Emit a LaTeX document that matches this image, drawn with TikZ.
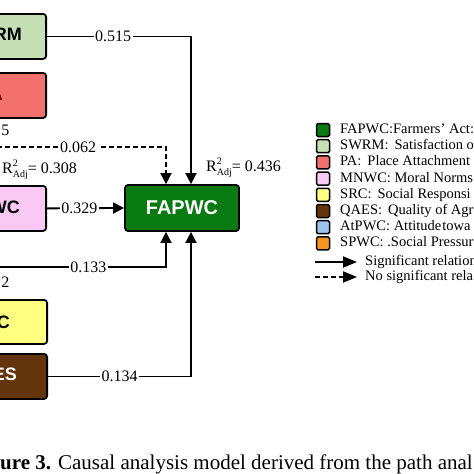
\documentclass[tikz,border=0pt]{standalone}
\usepackage{fontspec}
\setmainfont{Liberation Serif}
\setsansfont{Liberation Sans}
\usetikzlibrary{arrows.meta}
\definecolor{cFAPWC}{RGB}{10,122,18}
\definecolor{cSWRM}{RGB}{197,224,180}
\definecolor{cPA}{RGB}{242,113,108}
\definecolor{cMNWC}{RGB}{250,200,245}
\definecolor{cSRC}{RGB}{255,255,128}
\definecolor{cQAES}{RGB}{100,52,12}
\definecolor{cAtPWC}{RGB}{155,195,235}
\definecolor{cSPWC}{RGB}{247,150,30}
\newcommand{\radj}{R\rlap{\raisebox{0.42em}{\fontsize{10}{10}\selectfont 2}}\raisebox{-0.28em}{\fontsize{10}{10}\selectfont Adj}}
\begin{document}
\begin{tikzpicture}[x=1pt,y=-1pt,
  box/.style={draw, line width=1.8pt, rounded corners=3pt, inner sep=0pt},
  blabel/.style={font=\sffamily\bfseries\fontsize{18}{18}\selectfont, inner sep=0pt},
  conn/.style={line width=1.8pt, -{Triangle[length=11pt,width=11pt]}},
  dconn/.style={conn, dash pattern=on 5pt off 3pt},
  elab/.style={font=\fontsize{16}{16}\selectfont, fill=white, inner sep=1.5pt},
  plain/.style={font=\fontsize{16}{16}\selectfont, inner sep=0pt},
  lsq/.style={draw, line width=1.5pt, rounded corners=1.5pt, minimum width=13pt, minimum height=13pt, inner sep=0pt},
  ltext/.style={font=\fontsize{14.5}{14.5}\selectfont, anchor=west, inner xsep=0pt, inner ysep=0pt, text height=0.68em, text depth=0pt},
  larrow/.style={line width=1.8pt, -{Triangle[length=14pt,width=11pt]}}
]
\useasboundingbox (0,0) rectangle (474,474);
\clip (0,0) rectangle (474,474);

% left boxes (cropped)
\node[box, fill=cSWRM, anchor=north east, minimum width=100pt, minimum height=45pt] (swrm) at (47,13) {};
\node[box, fill=cPA, anchor=north east, minimum width=100pt, minimum height=45pt] (pa) at (47,72) {};
\node[box, fill=cMNWC, anchor=north east, minimum width=100pt, minimum height=45pt] (mnwc) at (47,185) {};
\node[box, fill=cSRC, anchor=north east, minimum width=100pt, minimum height=44pt] (src) at (48,299) {};
\node[box, fill=cQAES, anchor=north east, minimum width=100pt, minimum height=45pt] (qaes) at (48,353) {};

\node[blabel, anchor=east] (swrmt) at (22,34) {RM};
\node[blabel, anchor=east, text=red!45!black] (pat) at (3,94) {A};
\node[blabel, anchor=east] (mnwct) at (20,207) {WC};
\node[blabel, anchor=east] (srct) at (10,322) {C};
\node[blabel, anchor=east, text=white] (qaest) at (17,374) {ES};

% target box
\node[box, fill=cFAPWC, minimum width=114pt, minimum height=46pt,
      font=\sffamily\bfseries\fontsize{20}{20}\selectfont, text=white] (fapwc) at (182,208) {FAPWC};

% free ends
\coordinate (in062) at (-3,147);
\coordinate (in133) at (-3,267);

% connectors
\draw[conn] (swrm.east) -| ([xshift=9pt]fapwc.north) node[elab, pos=0.23] (l515) {0.515};
\draw[dconn] (in062) -| ([xshift=-16pt]fapwc.north) node[elab, pos=0.24] (l062) {0.062};
\draw[conn] (mnwc.east) -- (fapwc.west) node[elab, pos=0.42] (l329) {0.329};
\draw[conn] (in133) -| ([xshift=-16pt]fapwc.south) node[elab, pos=0.27] (l133) {0.133};
\draw[conn] (qaes.east) -| ([xshift=9pt]fapwc.south) node[elab, pos=0.25] (l134) {0.134};

% R2 labels and cropped numbers
\node[plain, anchor=west] (r308) at (2,170) {\radj= 0.308};
\node[plain, anchor=west] (r436) at (206,168) {\radj= 0.436};
\node[plain] (n5) at (5.5,130) {5};
\node[plain] (n2) at (5.5,282) {2};

% legend
\node[lsq, fill=cFAPWC] (q1) at (323,130) {};
\node[lsq, fill=cSWRM] (q2) at (323,146.2) {};
\node[lsq, fill=cPA] (q3) at (323,162.4) {};
\node[lsq, fill=cMNWC] (q4) at (323,178.6) {};
\node[lsq, fill=cSRC] (q5) at (323,194.8) {};
\node[lsq, fill=cQAES] (q6) at (323,211) {};
\node[lsq, fill=cAtPWC] (q7) at (323,227.2) {};
\node[lsq, fill=cSPWC] (q8) at (323,243.4) {};

\node[ltext] (t1) at (340,130) {FAPWC:Farmers' Act:};
\node[ltext] (t2) at (340,146.2) {SWRM: \,Satisfaction o};
\node[ltext] (t3) at (340,162.4) {PA: \,Place Attachment};
\node[ltext] (t4) at (340,178.6) {MNWC: Moral Norms};
\node[ltext] (t5) at (340,194.8) {SRC: \,Social Responsi};
\node[ltext] (t6) at (340,211) {QAES: \,Quality of Agr};
\node[ltext] (t7) at (340,227.2) {AtPWC: Attitude\kern1pt towa};
\node[ltext] (t8) at (340,243.4) {SPWC: .Social Pressur};

\coordinate (la1) at (315,262);
\coordinate (la2) at (357,262);
\coordinate (lb1) at (315,277);
\coordinate (lb2) at (357,277);
\draw[larrow] (la1) -- (la2);
\draw[larrow, dash pattern=on 5pt off 3pt] (lb1) -- (lb2);
\node[ltext] (t9) at (365,262) {Significant relation};
\node[ltext] (t10) at (365,277) {No significant rela};

% caption
\node[anchor=base west, inner sep=0pt, font=\fontsize{21}{21}\selectfont] (cap) at (0,469)
  {\textbf{ure 3.} Causal analysis model derived from the path anal};
\end{tikzpicture}
\end{document}
